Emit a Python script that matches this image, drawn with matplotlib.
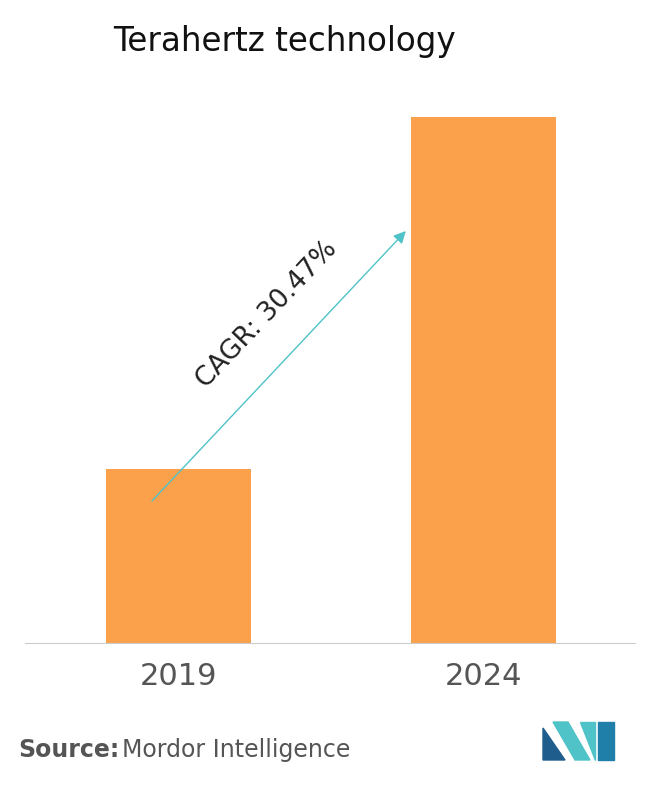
import matplotlib
matplotlib.use("Agg")
import matplotlib.pyplot as plt
from matplotlib.patches import Polygon

years = ["2019", "2024"]
values = [174, 526]
cagr_label = "CAGR: 30.47%"

fig = plt.figure(figsize=(6.58, 7.86), dpi=100)
ax = fig.add_axes([25 / 658, 143 / 786, 610 / 658, 553 / 786])
x = list(range(len(years)))
ax.bar(x, values, width=0.475, color="#FBA04B")
ax.set_xlim(-0.503, 1.497)
ax.set_ylim(0, 553)
ax.set_yticks([])
ax.set_xticks(x)
ax.set_xticklabels(years, fontsize=22, color="#555555", family="DejaVu Sans")
ax.tick_params(axis="x", length=0, pad=14)
for s in ["top", "left", "right"]:
    ax.spines[s].set_visible(False)
ax.spines["bottom"].set_color("#cccccc")

ax.annotate("", xy=(0.752, 414), xytext=(-0.093, 140),
            arrowprops=dict(arrowstyle="-|>", color="#4FC3C8", lw=1, mutation_scale=18))
ax.text(0.29, 328, cagr_label, rotation=46.5, fontsize=19, ha="center", va="center",
        color="#222222", rotation_mode="anchor")

fig.text(113 / 658, 1 - 42 / 786, "Terahertz technology", fontsize=23.5, va="center", color="#111111")
fig.text(18 / 658, 1 - 750 / 786, "Source:", fontsize=17, fontweight="bold", va="center", color="#555555")
fig.text(122 / 658, 1 - 750 / 786, "Mordor Intelligence", fontsize=17, va="center", color="#555555")

# logo
W, H = 658, 786
def poly(pts, c):
    fig.patches.append(Polygon([(px / W, 1 - py / H) for px, py in pts], closed=True,
                               transform=fig.transFigure, color=c))
poly([(543, 760), (543, 728), (565, 760)], "#1F5D8C")
poly([(553, 722), (568, 722), (590, 760), (575, 760)], "#4FC3C8")
poly([(580, 722), (595, 722), (595, 760)], "#4FC3C8")
poly([(598, 722), (614, 722), (614, 760), (598, 760)], "#1F7FA8")

fig.savefig("out.png", dpi=100)
